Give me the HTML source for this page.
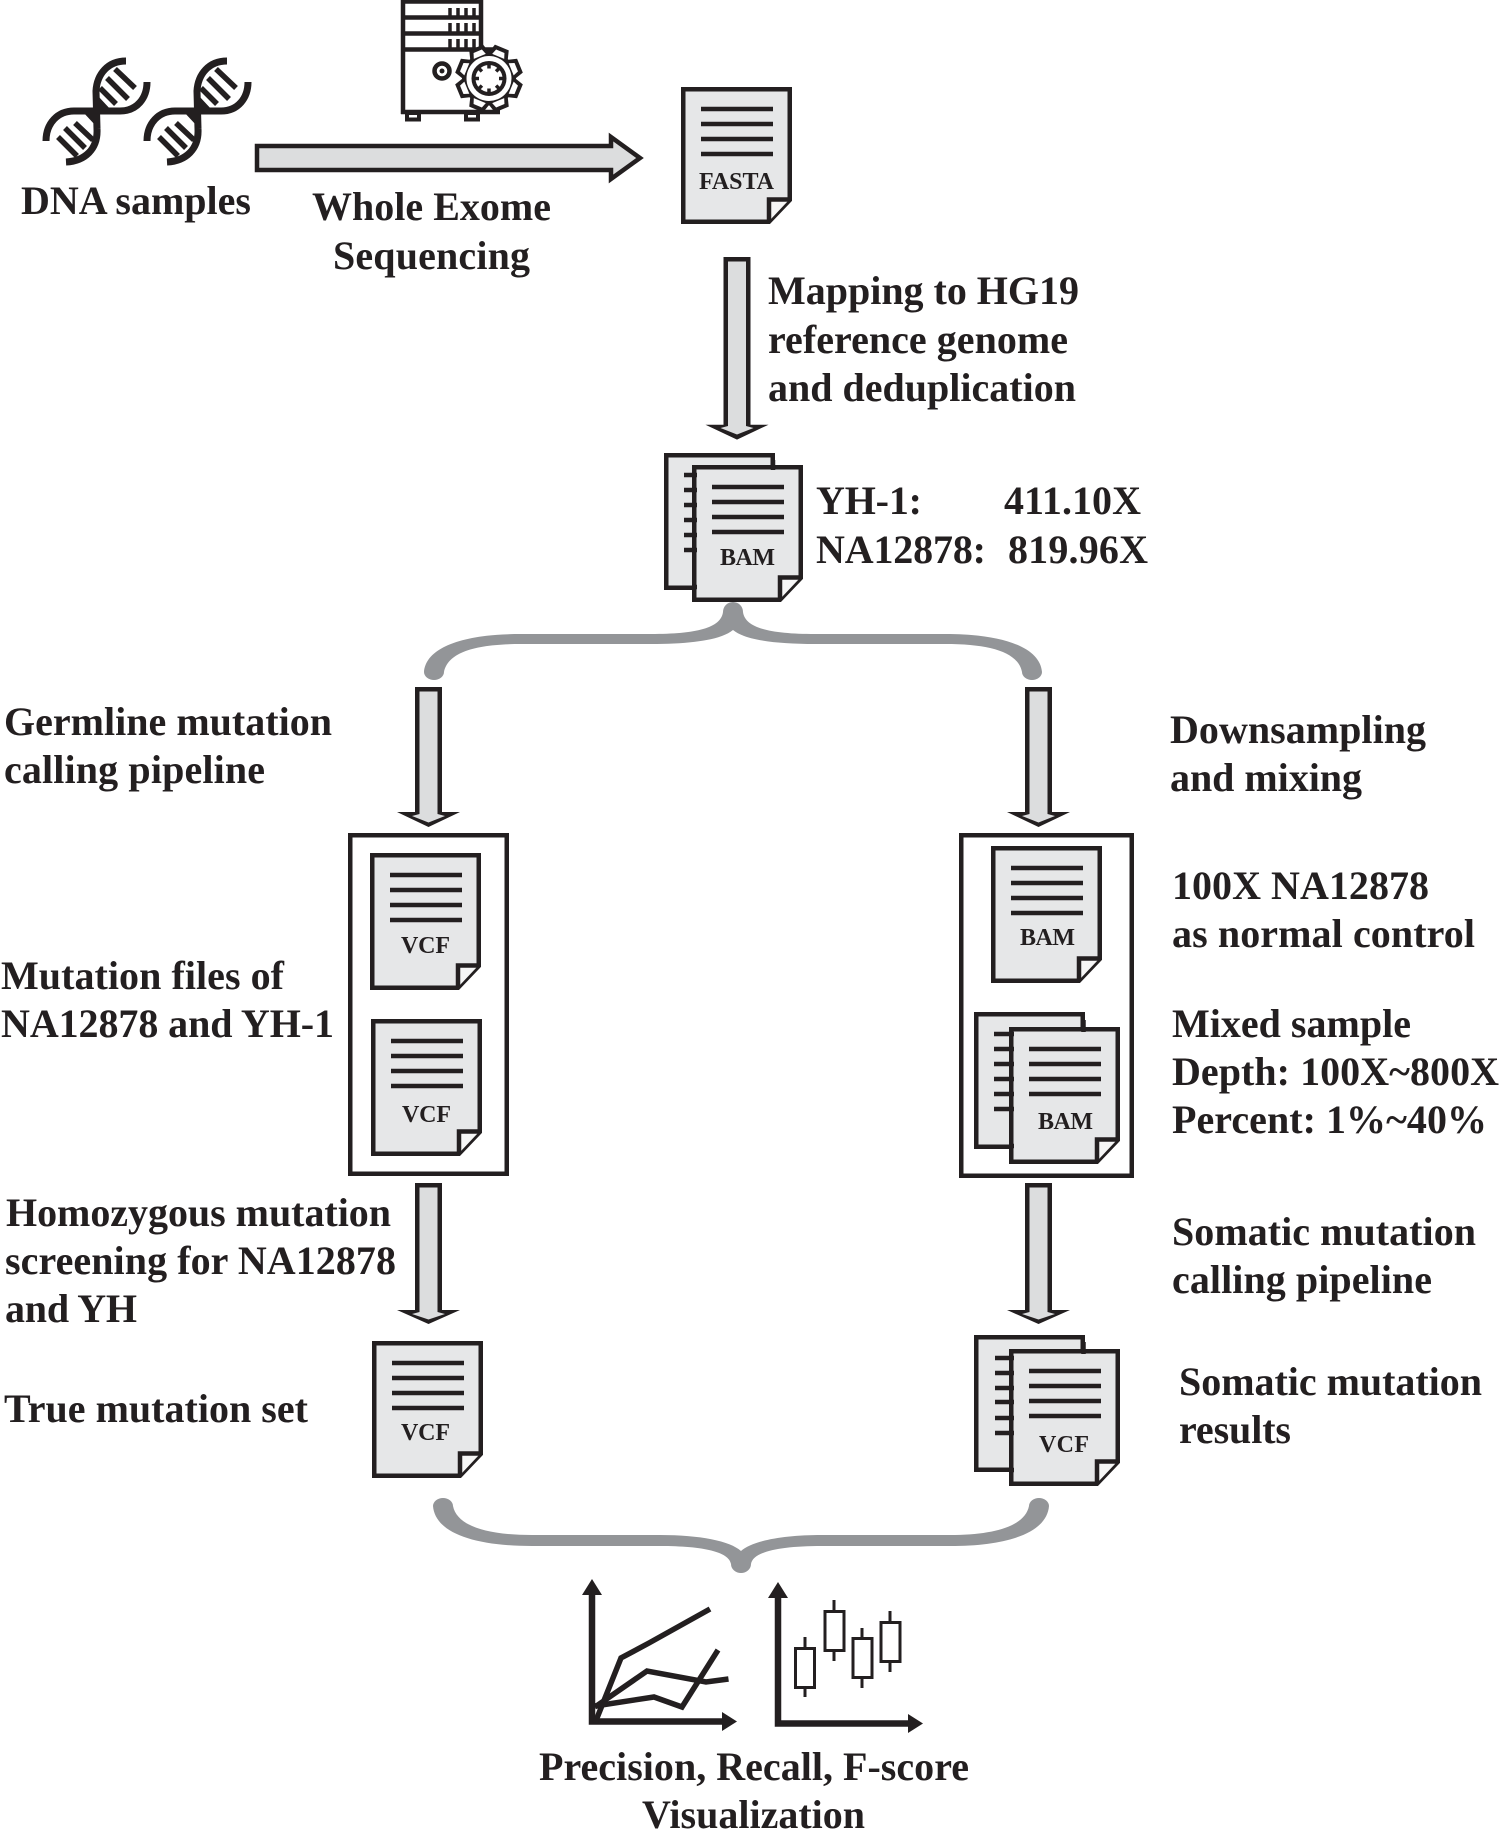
<!DOCTYPE html>
<html><head><meta charset="utf-8"><title>Pipeline</title>
<style>html,body{margin:0;padding:0;background:#fff}svg{display:block}
text{font-family:"Liberation Serif",serif;font-weight:bold;fill:#231f20;font-size:40px;transform:translateY(1px)}
.l{font-size:24px}</style></head><body>
<svg width="1500" height="1829" viewBox="0 0 1500 1829" xmlns="http://www.w3.org/2000/svg">
<defs>
<g id="doc">
<path d="M88 134V112.5H108.75Z" fill="#f6f6f6"/>
<path d="M2.25 2.25H108.75V113L88 134.75H2.25Z" fill="#e6e7e8" stroke="#231f20" stroke-width="4.5"/>
<path d="M90 132V114.5H106.5Z" fill="#f6f6f6"/>
<path d="M88 134V112.5H108" fill="none" stroke="#231f20" stroke-width="4.5"/>
<path d="M20 22H92M20 37H92M20 52H92M20 67H92" stroke="#231f20" stroke-width="4.5" fill="none"/>
</g>
<rect id="back" x="2.25" y="2.25" width="106.5" height="132.5" fill="#e6e7e8" stroke="#231f20" stroke-width="4.5"/>
<g id="dna" fill="none" stroke="#231f20" transform="translate(0 1)">
<path d="M126 60C108 60 97 73 96 90L97 128C98 148 85 160 66 161" stroke-width="7"/>
<path d="M147 81C147 97 137 110 120 110H74C58 110 46 122 46 140" stroke-width="7"/>
<path d="M115 68L135 87M107 77L128 98M100 87L116 103M58 136L77 155M65 127L85 147M75 122L93 139" stroke-width="5.5"/>
<path d="M98 95L98 110H112ZM96 110L96 125L82 110Z" fill="#231f20" stroke="none"/>
</g>
<path id="darr" d="M-13.5 0H13.5V125H31.5L0 140L-31.5 125H-13.5Z" fill="#231f20"/>
<path id="larr" d="M-9 4.5H9V127L16.5 129L0 135.5L-16.5 129L-9 127Z" fill="#dcddde"/>
<path id="t1" d="M-10 -25L-7.5 -33.5H7.5L10 -25Z" fill="#231f20"/>
<path id="t2" d="M-6.5 -24L-4.5 -29.5H4.5L6.5 -24Z" fill="#fff"/>
<path id="t3" d="M0 -16V-10" stroke="#231f20" stroke-width="3.5"/>
</defs>

<!-- DNA -->
<use href="#dna"/><use href="#dna" x="101"/>
<text x="21" y="213" textLength="230">DNA samples</text>

<!-- sequencer -->
<g stroke="#231f20" stroke-width="4.5" fill="none">
<path d="M403 114V0M481 0V49M401 1.5H483M401 17.5H483M401 33.5H483M403 49.5H500M401 112H500"/>
<path d="M450 8V16M458 8V16M466 8V16M474 8V16M450 23V32M458 23V32M466 23V32M474 23V32M450 39V48M458 39V48M466 39V48M474 39V48" stroke-width="3.5"/>
<rect x="407" y="113" width="12" height="6.5" stroke-width="4"/>
<rect x="466" y="113" width="12" height="6.5" stroke-width="4"/>
<circle cx="442" cy="71" r="7.5"/>
</g>
<circle cx="442" cy="71" r="2.5" fill="#231f20"/>
<g transform="translate(489 78.5)">
<circle r="27" fill="#231f20"/>
<use href="#t1" transform="rotate(22.5)"/><use href="#t1" transform="rotate(67.5)"/><use href="#t1" transform="rotate(112.5)"/><use href="#t1" transform="rotate(157.5)"/><use href="#t1" transform="rotate(202.5)"/><use href="#t1" transform="rotate(247.5)"/><use href="#t1" transform="rotate(292.5)"/><use href="#t1" transform="rotate(337.5)"/>
<circle r="22.5" fill="#fff"/>
<use href="#t2" transform="rotate(22.5)"/><use href="#t2" transform="rotate(67.5)"/><use href="#t2" transform="rotate(112.5)"/><use href="#t2" transform="rotate(157.5)"/><use href="#t2" transform="rotate(202.5)"/><use href="#t2" transform="rotate(247.5)"/><use href="#t2" transform="rotate(292.5)"/><use href="#t2" transform="rotate(337.5)"/>
<circle r="15.5" fill="#fff" stroke="#231f20" stroke-width="4"/>
<use href="#t3"/><use href="#t3" transform="rotate(45)"/><use href="#t3" transform="rotate(90)"/><use href="#t3" transform="rotate(135)"/><use href="#t3" transform="rotate(180)"/><use href="#t3" transform="rotate(225)"/><use href="#t3" transform="rotate(270)"/><use href="#t3" transform="rotate(315)"/>
</g>

<!-- horizontal arrow -->
<path d="M257 146H611V137L640 158L611 179V170H257Z" fill="#dcddde" stroke="#231f20" stroke-width="4.5"/>
<text x="312" y="219" textLength="239">Whole Exome</text>
<text x="333" y="268" textLength="197">Sequencing</text>

<!-- FASTA -->
<use href="#doc" x="681" y="87"/>
<text class="l" x="699" y="188" textLength="75">FASTA</text>

<!-- arrow to BAM -->
<g transform="translate(737 257) scale(1 1.3)"><path d="M-13.5 0H13.5V129H31.5L0 140.5L-31.5 129H-13.5Z" fill="#231f20"/><path d="M-9 3.5H9V130L16.5 131.5L0 136.5L-16.5 131.5L-9 130Z" fill="#dcddde"/></g>
<text x="768" y="303" textLength="311">Mapping to HG19</text>
<text x="768" y="352" textLength="300">reference genome</text>
<text x="768" y="400" textLength="308">and deduplication</text>

<!-- BAM stack -->
<use href="#back" x="664" y="453"/>
<use href="#doc" x="692" y="465"/>
<path d="M684 475H697M684 490H697M684 505H697M684 520H697M684 535H697M684 550H697M692 587H697M773 460V470" stroke="#231f20" stroke-width="4.5"/>
<text class="l" x="720" y="564" textLength="55">BAM</text>
<text x="816" y="513" textLength="106">YH-1:</text>
<text x="1004" y="513" textLength="137">411.10X</text>
<text x="816" y="562" textLength="170">NA12878:</text>
<text x="1008" y="562" textLength="140">819.96X</text>

<!-- top brace -->
<path d="M723 612A10 10 0 0 1 743 612C745 628 770 634 815 634L945 634C1005 634 1040 648 1042 672A10 8 0 0 1 1022 672C1018 652 990 644 945 644L815 644C775 644 745 640 733 630C721 640 691 644 651 644L521 644C476 644 448 652 444 672A10 8 0 0 1 424 672C426 648 461 634 521 634L651 634C696 634 721 628 723 612Z" fill="#939598"/>

<!-- arrows -->
<g transform="translate(428.5 687)"><use href="#darr"/><use href="#larr"/></g>
<g transform="translate(1038.5 687)"><use href="#darr"/><use href="#larr"/></g>
<g transform="translate(428.5 1183)"><path d="M-13.5 0H13.5V127H31.5L0 141L-31.5 127H-13.5Z" fill="#231f20"/><path d="M-9 4.5H9V129L16.5 131L0 136.5L-16.5 131L-9 129Z" fill="#dcddde"/></g>
<g transform="translate(1038.5 1183)"><path d="M-13.5 0H13.5V127H31.5L0 141L-31.5 127H-13.5Z" fill="#231f20"/><path d="M-9 4.5H9V129L16.5 131L0 136.5L-16.5 131L-9 129Z" fill="#dcddde"/></g>

<text x="4" y="734" textLength="328">Germline mutation</text>
<text x="4" y="782" textLength="261">calling pipeline</text>
<text x="1170" y="742" textLength="256">Downsampling</text>
<text x="1170" y="790" textLength="192">and mixing</text>

<!-- left box -->
<rect x="350.25" y="835.25" width="156.5" height="338.5" fill="#fff" stroke="#231f20" stroke-width="4.5"/>
<use href="#doc" x="370" y="853"/>
<text class="l" x="401" y="952" textLength="49">VCF</text>
<use href="#doc" x="371" y="1019"/>
<text class="l" x="402" y="1121" textLength="49">VCF</text>
<text x="1" y="988" textLength="283">Mutation files of</text>
<text x="1" y="1036" textLength="333">NA12878 and YH-1</text>

<!-- right box -->
<rect x="961.25" y="835.25" width="170.5" height="340.5" fill="#fff" stroke="#231f20" stroke-width="4.5"/>
<use href="#doc" x="991" y="846"/>
<text class="l" x="1020" y="944" textLength="55">BAM</text>
<use href="#back" x="974" y="1012"/>
<use href="#doc" x="1009" y="1027"/>
<path d="M994 1034H1014M994 1049H1014M994 1064H1014M994 1079H1014M994 1094H1014M994 1109H1014M1009 1146H1014M1083.5 1020V1032" stroke="#231f20" stroke-width="4.5"/>
<text class="l" x="1038" y="1128" textLength="55">BAM</text>
<text x="1172" y="898" textLength="257">100X NA12878</text>
<text x="1172" y="946" textLength="303">as normal control</text>
<text x="1172" y="1036" textLength="239">Mixed sample</text>
<text x="1172" y="1084" textLength="327">Depth: 100X~800X</text>
<text x="1172" y="1132" textLength="315">Percent: 1%~40%</text>

<text x="6" y="1225" textLength="385">Homozygous mutation</text>
<text x="5" y="1273" textLength="391">screening for NA12878</text>
<text x="5" y="1321" textLength="132">and YH</text>
<text x="1172" y="1244" textLength="304">Somatic mutation</text>
<text x="1172" y="1292" textLength="260">calling pipeline</text>

<!-- lower docs -->
<use href="#doc" x="372" y="1341"/>
<text class="l" x="401" y="1439" textLength="49">VCF</text>
<text x="4" y="1421" textLength="304">True mutation set</text>
<use href="#back" x="974" y="1335"/>
<use href="#doc" x="1009" y="1349"/>
<path d="M995 1358H1014M995 1373H1014M995 1388H1014M995 1402H1014M995 1418H1014M995 1433H1014M1009 1470H1014M1083.5 1342V1354" stroke="#231f20" stroke-width="4.5"/>
<text class="l" x="1039" y="1451" textLength="50">VCF</text>
<text x="1179" y="1394" textLength="303">Somatic mutation</text>
<text x="1179" y="1442" textLength="112">results</text>

<!-- bottom brace -->
<path d="M731 1564A10 9 0 0 0 751 1564C753 1552 778 1546 822 1546L950 1546C1010 1546 1047 1532 1049 1506A10 8 0 0 0 1029 1506C1025 1526 995 1535 950 1535L822 1535C782 1535 752 1541 741 1551C730 1541 700 1535 660 1535L532 1535C487 1535 457 1526 453 1506A10 8 0 0 0 433 1506C435 1532 472 1546 532 1546L660 1546C704 1546 729 1552 731 1564Z" fill="#939598"/>

<!-- charts -->
<g fill="none" stroke="#231f20">
<path d="M592 1590V1721.5H726" stroke-width="6.5"/>
<path d="M595 1723L621 1658L649 1643L710 1609" stroke-width="5.5"/>
<path d="M595 1707L647 1671L706 1682L728.5 1679" stroke-width="5.5"/>
<path d="M595 1706L654 1697L682 1707L718 1650" stroke-width="5.5"/>
<path d="M778 1594V1723.5H912" stroke-width="6.5"/>
<path d="M805 1637V1647M805 1688V1697M834 1600V1610M834 1651V1661M862 1628V1637M862 1679V1688M890 1611V1621M890 1662V1672" stroke-width="3"/>
<rect x="795.5" y="1648.5" width="19" height="39" stroke-width="3"/>
<rect x="825" y="1611.5" width="19" height="39" stroke-width="3"/>
<rect x="853" y="1638.5" width="19" height="39" stroke-width="3"/>
<rect x="881" y="1622.5" width="19" height="39" stroke-width="3"/>
</g>
<g fill="#231f20">
<path d="M592 1579L602 1595H582Z"/><path d="M737 1721.5L722 1712V1731Z"/>
<path d="M778 1582L788 1598H768Z"/><path d="M923 1723.5L908 1714V1733Z"/>
</g>

<text x="539" y="1779" textLength="430">Precision, Recall, F-score</text>
<text x="642" y="1827" textLength="223">Visualization</text>
</svg>
</body></html>
